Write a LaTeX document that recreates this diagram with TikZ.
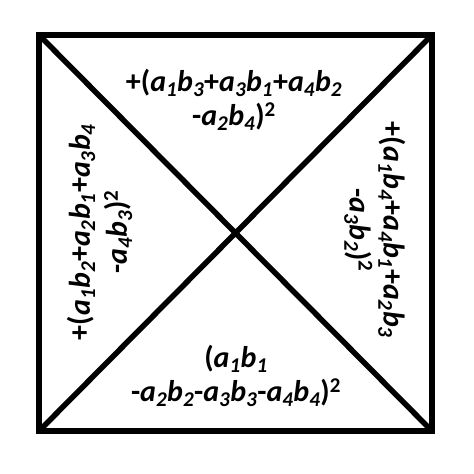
\documentclass[tikz,border=0pt]{standalone}
\usepackage{fontspec}
\setmainfont{Carlito}
\usetikzlibrary{positioning}
\newcommand{\av}[1]{\textit{a\textsubscript{#1}}}
\newcommand{\bv}[1]{\textit{b\textsubscript{#1}}}

\begin{document}
\begin{tikzpicture}[x=1pt,y=-1pt]
    \tikzset{term/.style= {align=center
    , font=\fontsize{30}{34}\selectfont\bfseries
    , inner sep=0pt
      }
    , edge/.style= {draw, line width=5.5pt, line join=miter}
    }

\useasboundingbox (0,0) rectangle (474,474);
\coordinate (nw) at (39,35);
\coordinate (ne) at (432,35);
\coordinate (se) at (432,431);
\coordinate (sw) at (39,431);

\node [term] (top) at (234,100) {+(\av1\bv3+\av3\bv1+\av4\bv2\\-\av2\bv4)\textsuperscript{2}};
\node [term] (bottom) at (236,376) {(\av1\bv1\\-\av2\bv2-\av3\bv3-\av4\bv4)\textsuperscript{2}};
\node [term, rotate=90, font=\fontsize{30}{37}\selectfont\bfseries] (left) at (100,232) {+(\av1\bv2+\av2\bv1+\av3\bv4\\-\av4\bv3)\textsuperscript{2}};
\node [term, rotate=-90] (right) at (375,230) {+(\av1\bv4+\av4\bv1+\av2\bv3\\-\av3\bv2)\textsuperscript{2}};

 \path[edge]
  (nw) -- (ne) -- (se) -- (sw) -- cycle;
 \path[edge]
  (nw) -- (se) (ne) -- (sw);
\end{tikzpicture}
\end{document}
